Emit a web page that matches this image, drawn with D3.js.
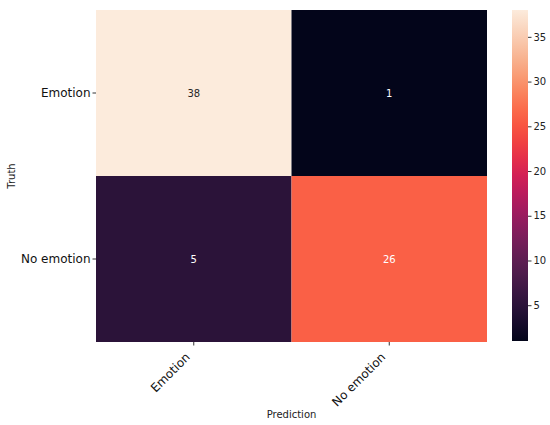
<!DOCTYPE html>
<html>
<head>
<meta charset="utf-8">
<script src="https://cdn.jsdelivr.net/npm/d3@7"></script>
<style>
  body { margin: 0; background: #fff; }
  text { font-family: "DejaVu Sans", sans-serif; }
</style>
</head>
<body>
<script>
const truthLabels = ["Emotion", "No emotion"];
const predLabels = ["Emotion", "No emotion"];
const counts = [
  [38, 1],
  [5, 26]
];
const colorbarTicks = [5, 10, 15, 20, 25, 30, 35];

// seaborn "rocket" colormap, sampled
const rocketStops = ["#03051a", "#28123a", "#4c1d4b", "#741f5c", "#a31a62",
  "#d51a58", "#f4403c", "#fd6a45", "#f89c73", "#f8c6a8", "#fcebdc"];

const width = 550, height = 425;
const svg = d3.select("body").append("svg")
  .attr("width", width).attr("height", height);

const plotLeft = 96, plotTop = 10, plotRight = 487, plotBottom = 342;

const x = d3.scaleBand().domain(predLabels).range([plotLeft, plotRight]);
const y = d3.scaleBand().domain(truthLabels).range([plotTop, plotBottom]);

const flat = counts.flat();
const vmin = d3.min(flat), vmax = d3.max(flat);
const interp = d3.interpolateRgbBasis(rocketStops);
const color = d3.scaleSequential(interp).domain([vmin, vmax]);

const cells = [];
truthLabels.forEach((t, i) => predLabels.forEach((p, j) => cells.push({t, p, v: counts[i][j]})));

svg.selectAll("rect.cell").data(cells).join("rect")
  .attr("class", "cell")
  .attr("x", d => x(d.p)).attr("y", d => y(d.t))
  .attr("width", x.bandwidth()).attr("height", y.bandwidth())
  .attr("fill", d => color(d.v));

function lum(c) {
  const rgb = d3.rgb(c);
  const f = v => { v /= 255; return v <= 0.03928 ? v / 12.92 : Math.pow((v + 0.055) / 1.055, 2.4); };
  return 0.2126 * f(rgb.r) + 0.7152 * f(rgb.g) + 0.0722 * f(rgb.b);
}

svg.selectAll("text.val").data(cells).join("text")
  .attr("class", "val")
  .attr("x", d => x(d.p) + x.bandwidth() / 2)
  .attr("y", d => y(d.t) + y.bandwidth() / 2)
  .attr("dy", "0.35em")
  .attr("text-anchor", "middle")
  .attr("font-size", 10)
  .attr("fill", d => lum(color(d.v)) > 0.408 ? "#262626" : "#ffffff")
  .text(d => d.v);

// y axis
const yAxis = svg.append("g").attr("transform", `translate(${plotLeft},0)`)
  .call(d3.axisLeft(y).tickSize(3.5).tickPadding(2));
yAxis.select(".domain").remove();
yAxis.selectAll("line").attr("stroke", "#333");
yAxis.selectAll("text").attr("font-size", 12).attr("fill", "#111")
  .style("font-family", "DejaVu Sans, sans-serif");

// x axis
const xAxis = svg.append("g").attr("transform", `translate(0,${plotBottom})`)
  .call(d3.axisBottom(x).tickSize(3.5).tickPadding(2));
xAxis.select(".domain").remove();
xAxis.selectAll("line").attr("stroke", "#333");
xAxis.selectAll("text").attr("font-size", 12).attr("fill", "#111")
  .style("font-family", "DejaVu Sans, sans-serif")
  .attr("text-anchor", "end")
  .attr("y", 0).attr("dx", 0).attr("dy", "0.35em")
  .attr("transform", "translate(-6,13) rotate(-45)");

svg.append("text")
  .attr("x", (plotLeft + plotRight) / 2).attr("y", 418)
  .attr("text-anchor", "middle").attr("font-size", 10).attr("fill", "#222")
  .text("Prediction");

svg.append("text")
  .attr("transform", `translate(15,${(plotTop + plotBottom) / 2}) rotate(-90)`)
  .attr("text-anchor", "middle").attr("font-size", 10).attr("fill", "#222")
  .text("Truth");

// colorbar
const cbX = 512, cbW = 16, cbTop = 10, cbBottom = 341;
const cbScale = d3.scaleLinear().domain([vmin, vmax]).range([cbBottom, cbTop]);
const defs = svg.append("defs");
const grad = defs.append("linearGradient").attr("id", "cbgrad")
  .attr("x1", 0).attr("y1", 1).attr("x2", 0).attr("y2", 0);
d3.range(0, 1.0001, 0.05).forEach(tt => {
  grad.append("stop").attr("offset", tt).attr("stop-color", interp(tt));
});
svg.append("rect")
  .attr("x", cbX).attr("y", cbTop).attr("width", cbW).attr("height", cbBottom - cbTop)
  .attr("fill", "url(#cbgrad)");

const cbAxis = svg.append("g").attr("transform", `translate(${cbX + cbW},0)`)
  .call(d3.axisRight(cbScale).tickValues(colorbarTicks).tickSize(3.5).tickPadding(2));
cbAxis.select(".domain").remove();
cbAxis.selectAll("line").attr("stroke", "#333");
cbAxis.selectAll("text").attr("font-size", 10).attr("fill", "#222")
  .style("font-family", "DejaVu Sans, sans-serif");
</script>
</body>
</html>
